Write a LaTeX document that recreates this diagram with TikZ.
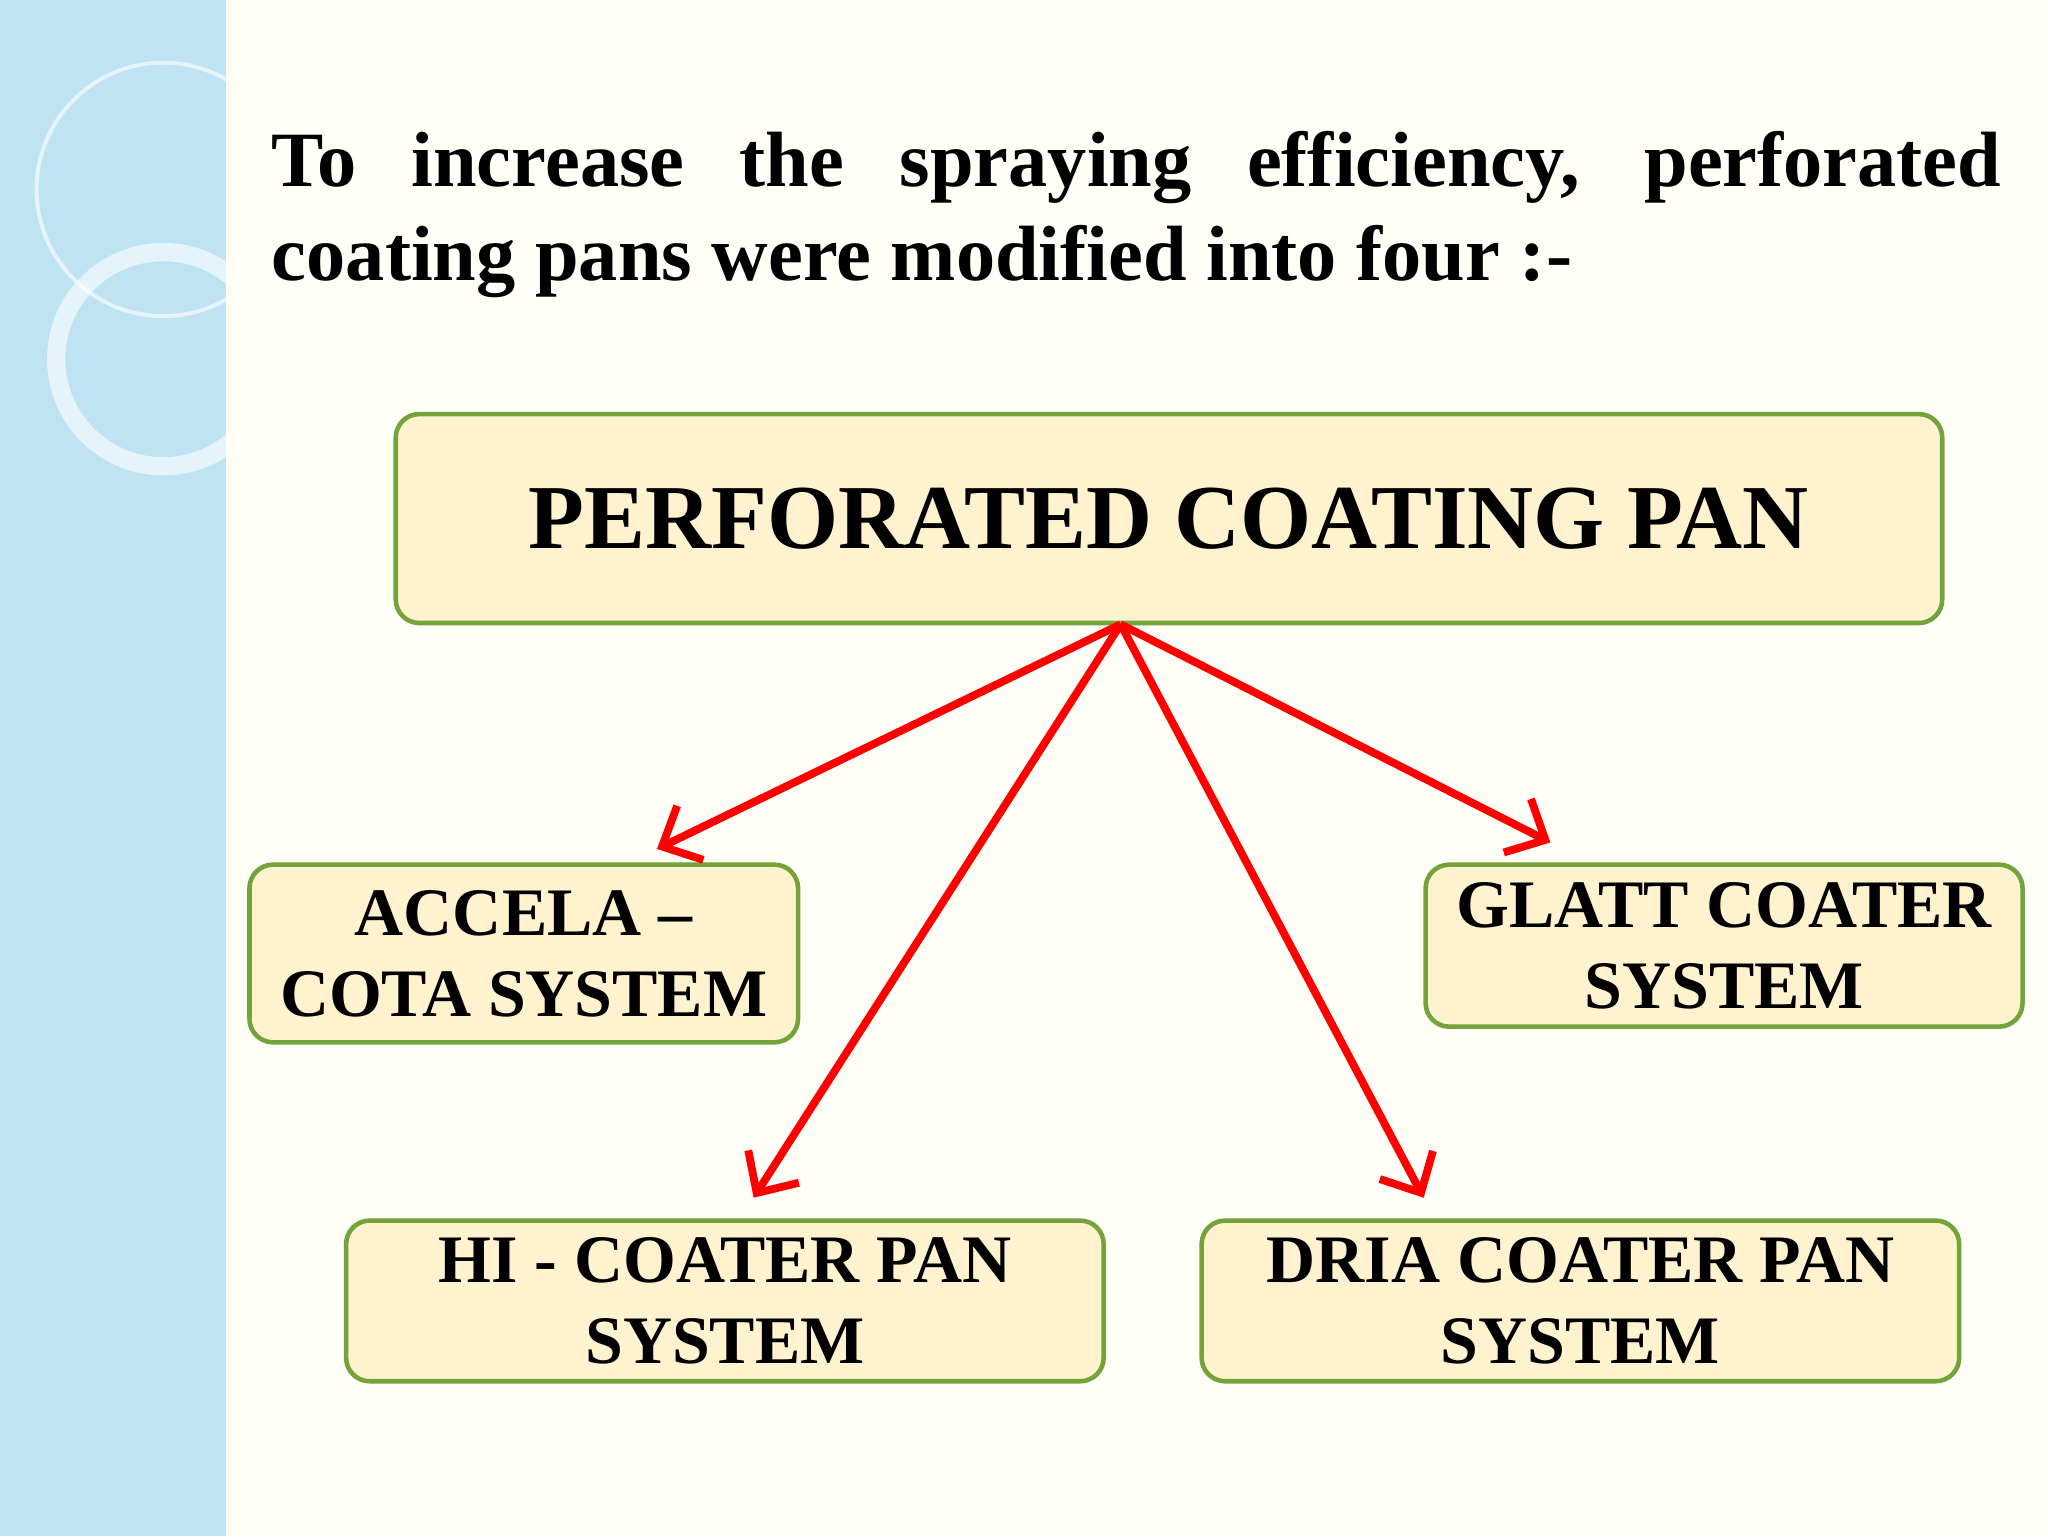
\documentclass[tikz,border=0pt]{standalone}
\usepackage{fontspec}
\setmainfont{Liberation Serif}
\usetikzlibrary{arrows.meta}
\definecolor{strip}{HTML}{BFE3F3}
\definecolor{boxfill}{HTML}{FFF2CF}
\definecolor{boxline}{HTML}{73A33A}
\tikzset{
 pbox/.style={draw=boxline,line width=3.5pt,fill=boxfill,rounded corners=18pt,align=center,font=\bfseries\fontsize{52}{62}\selectfont},
 arr/.style={draw=red,line width=6pt,-{Straight Barb[length=24pt,width=46pt,line width=6pt]}}
}
\begin{document}
\begin{tikzpicture}[x=1pt,y=-1pt]
\useasboundingbox (0,0) rectangle (1568,1176);
\fill[white!97!yellow] (0,0) rectangle (1568,1176);
\fill[strip] (0,0) rectangle (173,1176);
\begin{scope}
\clip (0,0) rectangle (173,1176);
\draw[white,opacity=0.6,line width=3pt] (125,145) circle (97);
\draw[white,opacity=0.6,line width=14pt] (125,275) circle (82);
\end{scope}
\node[anchor=north west,inner sep=0] (title) at (208,100) {\parbox{1324pt}{\bfseries\fontsize{60}{72}\selectfont\hyphenpenalty=10000 To increase the spraying efficiency, perforated\linebreak coating pans were modified into four :-}};
\node[pbox,minimum width=1184pt,minimum height=160pt,font=\bfseries\fontsize{70}{76}\selectfont] (main) at (895,397) {PERFORATED COATING PAN};
\node[pbox,minimum width=420pt,minimum height=136pt] (a) at (401,730) {ACCELA --\\COTA SYSTEM};
\node[pbox,minimum width=457pt,minimum height=124pt] (g) at (1320,724) {GLATT COATER\\SYSTEM};
\node[pbox,minimum width=580pt,minimum height=123pt] (h) at (555,996) {HI - COATER PAN\\SYSTEM};
\node[pbox,minimum width=580pt,minimum height=123pt] (d) at (1210,996) {DRIA COATER PAN\\SYSTEM};
\coordinate (o) at (858,478);
\coordinate (ta) at (503,650);
\coordinate (th) at (577,917);
\coordinate (td) at (1090,917);
\coordinate (tg) at (1187,645);
\draw[arr] (o) -- (ta);
\draw[arr] (o) -- (th);
\draw[arr] (o) -- (td);
\draw[arr] (o) -- (tg);
\end{tikzpicture}
\end{document}
